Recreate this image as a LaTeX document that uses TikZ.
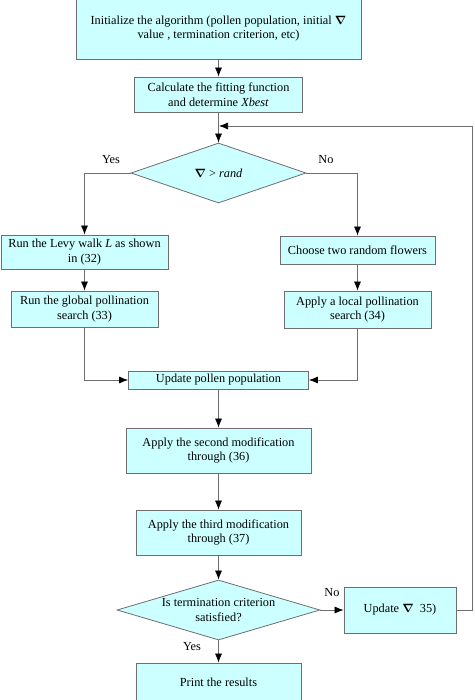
\documentclass[tikz,border=0pt]{standalone}
\usepackage{fontspec}
\setmainfont{Liberation Serif}
\usepackage{amsmath}
\usepackage{bm}
\usetikzlibrary{shapes.geometric,arrows.meta}
\definecolor{boxcyan}{RGB}{204,255,255}
\definecolor{edgegray}{RGB}{110,110,110}

\begin{document}
\begin{tikzpicture}
[x=1pt,y=-1pt,font=\fontsize{12.3}{14.5}\selectfont,
box/.style={draw=edgegray,line width=0.8pt,fill=boxcyan,inner sep=0pt,align=center},
choice/.style={diamond,aspect=3.38,draw=edgegray,line width=0.8pt,fill=boxcyan,inner sep=0pt,align=center},
arr/.style={draw=edgegray,line width=0.7pt,-{Latex[length=9pt,width=7pt,color=black]}},
tag/.style={inner sep=0pt}]
\useasboundingbox (0,0) rectangle (474,700);
\node[box,minimum width=285pt,minimum height=61pt] (init) at (218.5,28.5) {Initialize the algorithm (pollen population, initial $\bm{\nabla}$\\value , termination criterion, etc)};
\node[box,minimum width=168pt,minimum height=35pt] (calc) at (218.5,94.5) {Calculate the fitting function\\and determine \textit{Xbest}};
\node[choice,minimum width=175pt,minimum height=60pt] (dec1) at (218.5,173) {$\bm{\nabla}$ > \textit{rand}};
\node[box,minimum width=167pt,minimum height=34pt] (levy) at (84.5,252) {Run the Levy walk \textit{L} as shown\\in (32)};
\node[box,minimum width=147pt,minimum height=36pt] (global) at (84.5,309) {Run the global pollination\\search (33)};
\node[box,minimum width=155pt,minimum height=28pt] (choose) at (357.5,250) {Choose two random flowers};
\node[box,minimum width=147pt,minimum height=37pt] (local) at (357.5,309.5) {Apply a local pollination\\search (34)};
\node[box,minimum width=180pt,minimum height=18pt] (update) at (218.5,380) {Update pollen population};
\node[box,minimum width=185pt,minimum height=45pt] (second) at (218.5,450.5) {Apply the second modification\\through (36)};
\node[box,minimum width=165pt,minimum height=45pt] (third) at (218.5,532.5) {Apply the third modification\\through (37)};
\node[choice,minimum width=203pt,minimum height=60pt] (dec2) at (218.5,610) {Is termination criterion\\satisfied?};
\node[box,minimum width=165pt,minimum height=38pt] (print) at (218.5,682) {Print the results};
\node[box,minimum width=112pt,minimum height=46pt] (upd) at (400,610) {Update $\bm{\nabla}$ \ 35)};
\node[tag] (yes1) at (111,160) {Yes};
\node[tag] (no1) at (326,160) {No};
\node[tag] (yes2) at (192,647) {Yes};
\node[tag] (no2) at (332,593) {No};
\coordinate (rt) at (472,610);
\coordinate (tp) at (472,126);
\coordinate (entry) at (219,126);
\foreach \from/\to in {init/calc,calc/dec1,levy/global,choose/local,update/second,second/third,third/dec2,dec2/print,dec2/upd}
\draw[arr] (\from) -- (\to);
\draw[arr] (dec1.west) -| (levy.north);
\draw[arr] (dec1.east) -| (choose.north);
\draw[arr] (global.south) |- (update.west);
\draw[arr] (local.south) |- (update.east);
\draw[arr] (upd.east) -- (rt) -- (tp) -- (entry);
\end{tikzpicture}
\end{document}
